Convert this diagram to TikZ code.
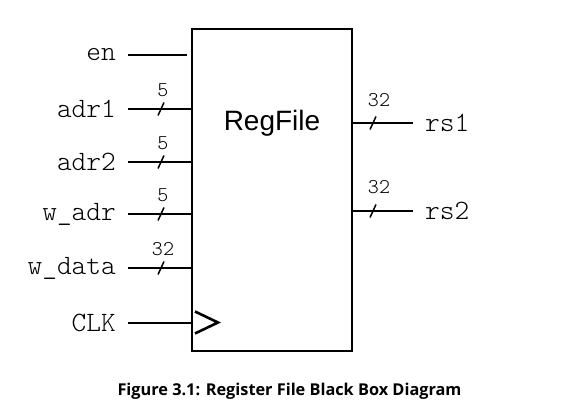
\documentclass[tikz,border=0pt]{standalone}
\usepackage{fontspec}
\setmainfont{Liberation Sans}
\newfontfamily\capf{Open Sans}
\newfontfamily\monol{Latin Modern Mono Light}
\begin{document}
\begin{tikzpicture}[x=1pt,y=-1pt,
  wire/.style={line width=1.6pt},
  sig/.style={font=\monol\fontsize{28}{28}\selectfont, inner sep=0pt},
  buslbl/.style={font=\monol\fontsize{21}{21}\selectfont, inner sep=0pt},
  slashmark/.style={line width=1.5pt}]
\useasboundingbox (0,0) rectangle (578,419);
% box
\node[draw, line width=1.6pt, minimum width=160pt, minimum height=322pt, inner sep=0pt] (box) at (272,190) {};
\node[font=\fontsize{28}{28}\selectfont, inner sep=0pt] (title) at (272,123) {RegFile};
% inputs
\node[sig, anchor=east] (en) at (116,55) {en};
\coordinate (enS) at (128,55);
\coordinate (enE) at (187,55);
\draw[wire] (enS) -- (enE);

\foreach \nm/\yy/\w in {adr1/109/5, adr2/162/5, w\_adr/214/5, w\_data/268/32}{
  \node[sig, anchor=east] (L\yy) at (116,\yy) {\nm};
  \coordinate (S\yy) at (128,\yy);
  \coordinate (E\yy) at (192,\yy);
  \draw[wire] (S\yy) -- (E\yy);
  \draw[slashmark] (158,\yy+6.5) -- (164,\yy-6.5);
  \node[buslbl] (B\yy) at (163,\yy-19) {\w};
}
\node[sig, anchor=east] (clk) at (116,323) {CLK};
\coordinate (clkS) at (128,323);
\coordinate (clkE) at (192,323);
\draw[wire] (clkS) -- (clkE);
\draw[line width=2.6pt, line join=miter] (195,311.5) -- (218,322.5) -- (195,333.5);
% outputs
\coordinate (o1) at (352,123);
\coordinate (o2) at (352,211);
\node[sig, anchor=west] (rs1) at (425,123) {rs1};
\node[sig, anchor=west] (rs2) at (425,211) {rs2};
\draw[wire] (o1) -- (413,123);
\draw[wire] (o2) -- (413,211);
\draw[slashmark] (370,129.5) -- (376,116.5);
\draw[slashmark] (370,217.5) -- (376,204.5);
\node[buslbl] (b1) at (379,100) {32};
\node[buslbl] (b2) at (379,187) {32};
% caption
\node[font=\capf\bfseries\fontsize{16.3}{16.3}\selectfont, inner sep=0pt] (cap) at (289.5,391) {Figure 3.1: Register File Black Box Diagram};
\end{tikzpicture}
\end{document}
